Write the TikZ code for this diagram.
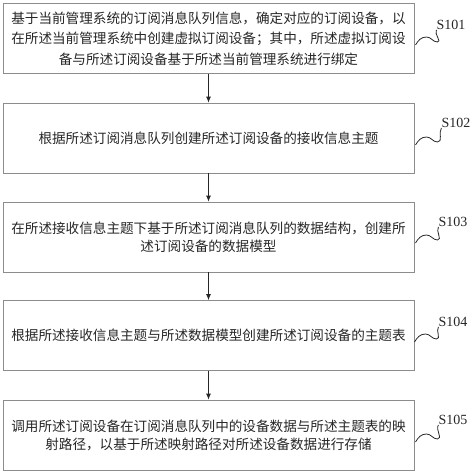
\documentclass[tikz,border=0pt]{standalone}
\usepackage{fontspec}
\setmainfont{Liberation Serif}
\newfontfamily\cjk{Noto Sans CJK SC}
\usetikzlibrary{arrows.meta}
\tikzset{
  stepbox/.style={draw=black!45, line width=0.8pt, minimum width=411pt, minimum height=70pt,
    inner sep=0pt, align=center, font=\cjk\fontsize{13.6}{18}\selectfont, text=black!85},
  flow/.style={draw=black!85, line width=0.8pt, -{Latex[length=6pt,width=5pt]}},
  steplabel/.style={font=\fontsize{14}{16}\selectfont, text=black!85, inner sep=0pt},
  wave/.style={draw=black!85, line width=0.8pt}
}
\begin{document}
\begin{tikzpicture}[x=1pt,y=1pt]
\useasboundingbox (0,0) rectangle (474,-474);
\node[stepbox, font=\cjk\fontsize{13.6}{20.5}\selectfont] (b1) at (208.5,-38.5)
  {基于当前管理系统的订阅消息队列信息，确定对应的订阅设备，以\\在所述当前管理系统中创建虚拟订阅设备；其中，所述虚拟订阅设\\备与所述订阅设备基于所述当前管理系统进行绑定};
\node[stepbox] (b2) at (208.5,-138) {根据所述订阅消息队列创建所述订阅设备的接收信息主题};
\node[stepbox] (b3) at (208.5,-237) {在所述接收信息主题下基于所述订阅消息队列的数据结构，创建所\\述订阅设备的数据模型};
\node[stepbox] (b4) at (208.5,-335.5) {根据所述接收信息主题与所述数据模型创建所述订阅设备的主题表};
\node[stepbox] (b5) at (208.5,-435) {调用所述订阅设备在订阅消息队列中的设备数据与所述主题表的映\\射路径，以基于所述映射路径对所述设备数据进行存储};

\draw[flow] (b1) -- (b2);
\draw[flow] (b2) -- (b3);
\draw[flow] (b3) -- (b4);
\draw[flow] (b4) -- (b5);

\node[steplabel] (l1) at (451,-25) {S101};
\node[steplabel] (l2) at (456,-123) {S102};
\node[steplabel] (l3) at (453,-222) {S103};
\node[steplabel] (l4) at (453,-322) {S104};
\node[steplabel] (l5) at (453,-420) {S105};

\coordinate (w1) at (415.5,-45);
\coordinate (w2) at (415.5,-145);
\coordinate (w3) at (415.5,-243);
\coordinate (w4) at (414.5,-342);
\coordinate (w5) at (415.5,-442);

\foreach \i in {1,...,5}{
  \draw[wave] (w\i) to[out=60,in=180] ++(11,8) to[out=0,in=180] ++(11,-5) to[out=0,in=235] (l\i.south west);
}
\end{tikzpicture}
\end{document}
